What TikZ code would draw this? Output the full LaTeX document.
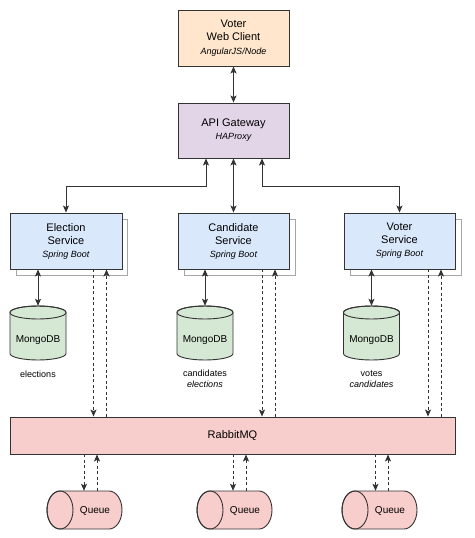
\documentclass[tikz,border=0pt]{standalone}
\usepackage{fontspec}
\setmainfont{Liberation Sans}
\usetikzlibrary{arrows.meta,calc}
\definecolor{clientfill}{HTML}{FFE6CC}
\definecolor{gwfill}{HTML}{E1D5E7}
\definecolor{svcfill}{HTML}{DAE8FC}
\definecolor{dbfill}{HTML}{D5E8D4}
\definecolor{mqfill}{HTML}{F8CECC}
\definecolor{edge}{HTML}{333333}
\newcommand\mongocyl[2]{%
  \path[fill=dbfill,draw=edge,line width=0.9pt] (#1-28,312.5) -- (#1-28,353.5)
    arc[start angle=180,end angle=360,x radius=28pt,y radius=6.5pt] -- (#1+28,312.5)
    arc[start angle=0,end angle=180,x radius=28pt,y radius=6.5pt] -- cycle;
  \draw[edge,line width=0.9pt] (#1,312.5) ellipse[x radius=28pt,y radius=6.5pt];
  \node[inner sep=0,minimum width=56pt,minimum height=54pt] (#2) at (#1,333) {};
  \node[font=\fontsize{10}{12}\selectfont] (#2t) at (#1,340.5) {MongoDB};
}
\newcommand\queuecyl[2]{%
  \path[fill=mqfill,draw=edge,line width=0.9pt] (#1+13,491) -- (#1+62,491)
    arc[start angle=90,end angle=-90,x radius=13pt,y radius=19pt] -- (#1+13,529)
    arc[start angle=270,end angle=90,x radius=13pt,y radius=19pt] -- cycle;
  \draw[edge,line width=0.9pt] (#1+13,510) ellipse[x radius=13pt,y radius=19pt];
  \node[inner sep=0,minimum width=75pt,minimum height=38pt] (#2) at (#1+37.5,510) {};
  \node[font=\fontsize{10}{12}\selectfont] (#2t) at (#1+48,510.5) {Queue};
}
\tikzset{
  box/.style={draw=edge,line width=0.9pt,inner sep=0,align=center,
    font=\fontsize{11}{13}\selectfont},
  backbox/.style={draw=black!35,fill=white,line width=0.6pt,inner sep=0,
    minimum width=111pt,minimum height=56pt},
  link/.style={draw=edge,line width=1pt,
    arrows={Stealth[length=7pt,width=6pt,inset=1.5pt]-Stealth[length=7pt,width=6pt,inset=1.5pt]}},
  dlink/.style={draw=edge,line width=1pt,dash pattern=on 3pt off 2.5pt,
    -{Stealth[length=7pt,width=6pt,inset=1.5pt]}},
  sub/.style={font=\fontsize{9}{11}\selectfont},
}
\begin{document}
\begin{tikzpicture}[x=1pt,y=-1pt]
\useasboundingbox[fill=white] (0,0) rectangle (474,538);
% top boxes
\node[box,fill=clientfill,minimum width=111pt,minimum height=56pt] (client) at (233.5,38)
  {Voter\\Web Client\\[1pt]{\fontsize{9}{11}\selectfont\itshape AngularJS/Node}};
\node[box,fill=gwfill,minimum width=111pt,minimum height=55pt] (gw) at (233.5,130.5)
  {API Gateway\\{\fontsize{9}{11}\selectfont\itshape HAProxy}};
% services
\node[backbox] (esb) at (72,247) {};
\node[backbox] (csb) at (239.5,247) {};
\node[backbox] (vsb) at (405.5,247) {};
\node[box,fill=svcfill,minimum width=112pt,minimum height=56pt] (es) at (66,241)
  {Election\\Service\\{\fontsize{9}{11}\selectfont\itshape Spring Boot}};
\node[box,fill=svcfill,minimum width=111pt,minimum height=56pt] (cs) at (233.5,241)
  {Candidate\\Service\\{\fontsize{9}{11}\selectfont\itshape Spring Boot}};
\node[box,fill=svcfill,minimum width=111pt,minimum height=56pt] (vs) at (399.5,241)
  {Voter\\Service\\{\fontsize{9}{11}\selectfont\itshape Spring Boot}};
% databases
\mongocyl{38}{m1}
\mongocyl{205}{m2}
\mongocyl{371.5}{m3}
\node[sub] (l1) at (38,374) {elections};
\node[sub,align=center] (l2) at (205,379) {candidates\\\itshape elections};
\node[sub,align=center] (l3) at (371.5,379) {votes\\\itshape candidates};
% rabbit
\node[box,fill=mqfill,minimum width=445pt,minimum height=37pt] (mq) at (232.5,435.5) {RabbitMQ};
% queues
\queuecyl{47}{q1}
\queuecyl{197}{q2}
\queuecyl{342}{q3}
% connectors
\draw[link] (client) -- (gw);
\draw[link] ([xshift=-27.5pt]gw.south) -- ++(0,28) -| (es.north);
\draw[link] (gw.south) -- (cs.north);
\draw[link] ([xshift=28.5pt]gw.south) -- ++(0,28) -| (vs.north);
\draw[link] (m1.north |- es.south) -- (m1.north);
\draw[link] (m2.north |- cs.south) -- (m2.north);
\draw[link] (m3.north |- vs.south) -- (m3.north);
% service <-> rabbit
\coordinate (ea) at ([xshift=27.5pt]es.south);
\coordinate (eb) at ([xshift=40.5pt]es.south);
\coordinate (ca) at ([xshift=28.5pt]cs.south);
\coordinate (cb) at ([xshift=41.5pt]cs.south);
\coordinate (va) at ([xshift=28.5pt]vs.south);
\coordinate (vb) at ([xshift=41.5pt]vs.south);
\draw[dlink] (ea) -- (ea |- mq.north);
\draw[dlink] (eb |- mq.north) -- (eb);
\draw[dlink] (ca) -- (ca |- mq.north);
\draw[dlink] (cb |- mq.north) -- (cb);
\draw[dlink] (va) -- (va |- mq.north);
\draw[dlink] (vb |- mq.north) -- (vb);
% rabbit <-> queues
\coordinate (qa1) at ([xshift=-0.5pt]q1.north);
\coordinate (qb1) at ([xshift=12.5pt]q1.north);
\coordinate (qa2) at ([xshift=-1.5pt]q2.north);
\coordinate (qb2) at ([xshift=11.5pt]q2.north);
\coordinate (qa3) at ([xshift=-4pt]q3.north);
\coordinate (qb3) at ([xshift=8.5pt]q3.north);
\draw[dlink] (qa1 |- mq.south) -- (qa1);
\draw[dlink] (qb1) -- (qb1 |- mq.south);
\draw[dlink] (qa2 |- mq.south) -- (qa2);
\draw[dlink] (qb2) -- (qb2 |- mq.south);
\draw[dlink] (qa3 |- mq.south) -- (qa3);
\draw[dlink] (qb3) -- (qb3 |- mq.south);
\end{tikzpicture}
\end{document}
